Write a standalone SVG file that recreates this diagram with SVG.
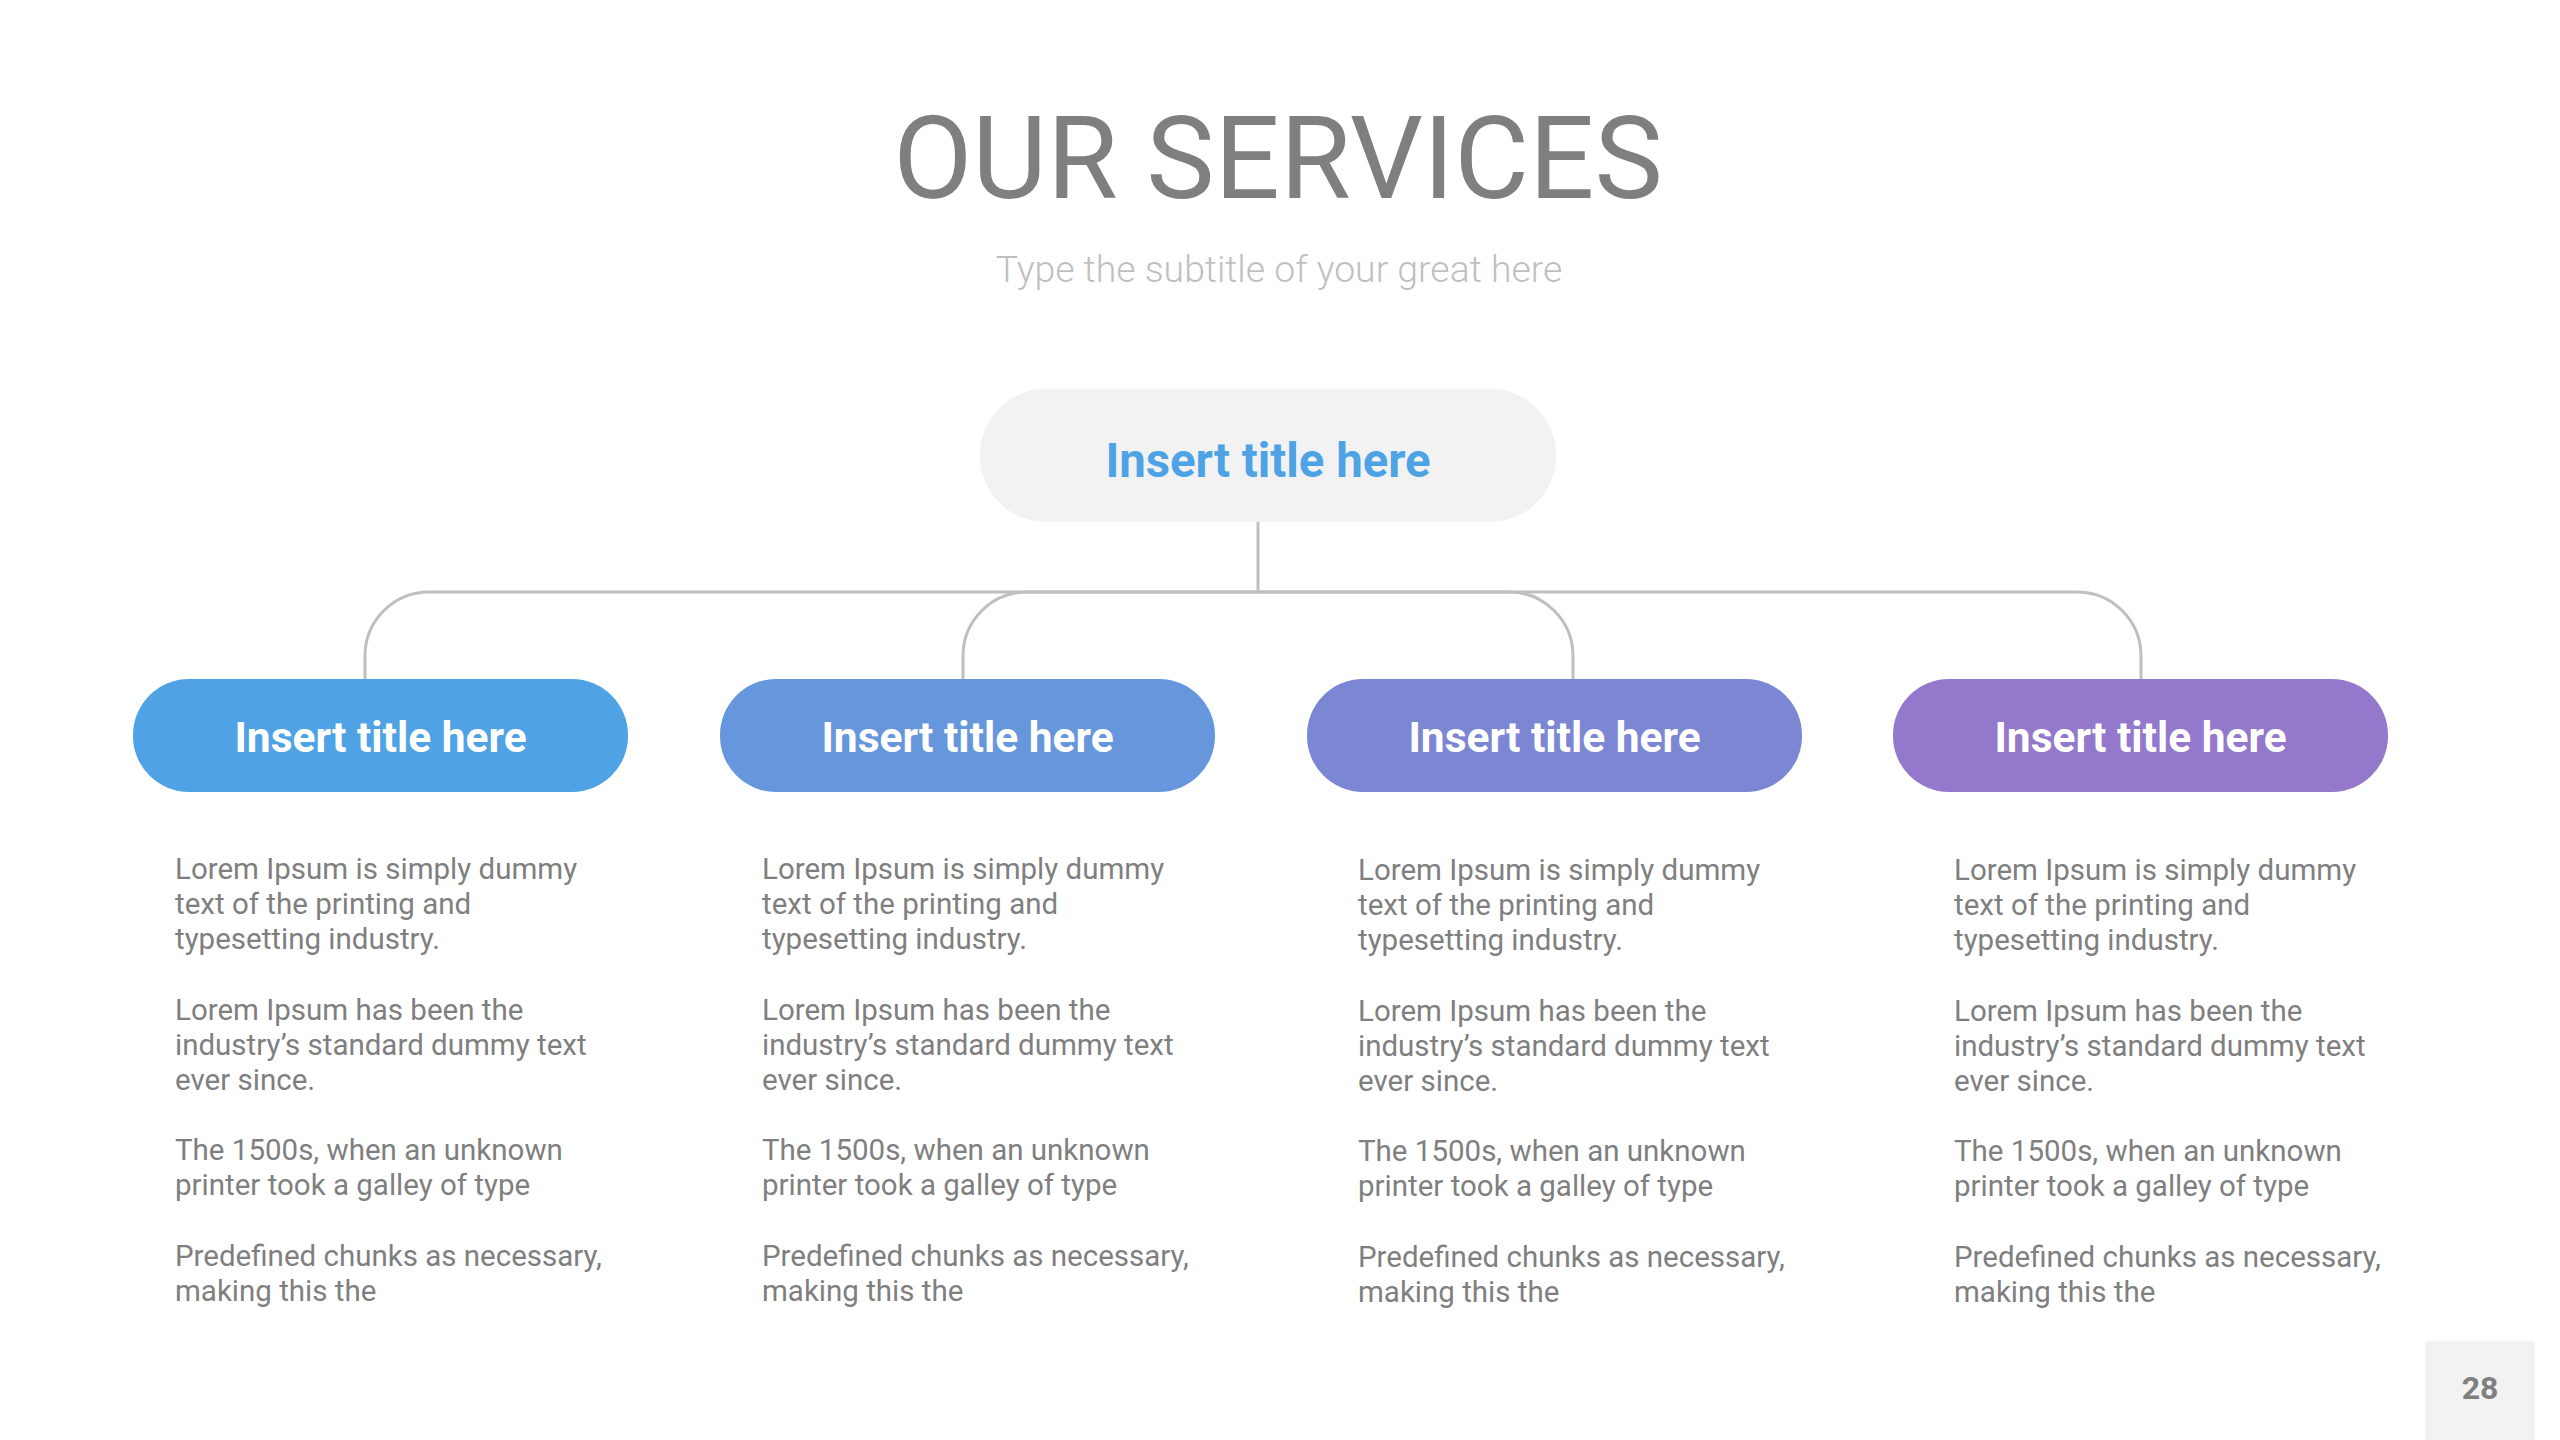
<svg xmlns="http://www.w3.org/2000/svg" width="2560" height="1440" viewBox="0 0 2560 1440">
  <style>
    .title { font-family: Roboto, "Liberation Sans", sans-serif; font-size: 115px; fill: #7f7f7f; }
    .subtitle { font-family: Roboto, "Liberation Sans", sans-serif; font-weight: 300; font-size: 37.4px; fill: #bfbfbf; }
    .head { font-family: Roboto, "Liberation Sans", sans-serif; font-weight: 700; font-size: 42.5px; fill: #ffffff; }
    .mainhead { font-family: Roboto, "Liberation Sans", sans-serif; font-weight: 700; font-size: 47.3px; fill: #4ea3e4; }
    .body { font-family: Roboto, "Liberation Sans", sans-serif; font-size: 29.5px; fill: #7f7f7f; }
    .pagenum { font-family: Roboto, "Liberation Sans", sans-serif; font-weight: 700; font-size: 32px; fill: #7f7f7f; }
    .conn { fill: none; stroke: #bfbfbf; stroke-width: 3; }
  </style>
  <rect x="0" y="0" width="2560" height="1440" fill="#ffffff"/>

  <g id="header">
    <text class="title" x="1278" y="198" text-anchor="middle">OUR SERVICES</text>
    <text class="subtitle" x="1279" y="282" text-anchor="middle">Type the subtitle of your great here</text>
  </g>

  <g id="connectors">
    <path class="conn" d="M1258,522 V592"/>
    <path class="conn" d="M1258,592 H429 A64,64 0 0 0 365,656 V679"/>
    <path class="conn" d="M1258,592 H1027 A64,64 0 0 0 963,656 V679"/>
    <path class="conn" d="M1258,592 H1509 A64,64 0 0 1 1573,656 V679"/>
    <path class="conn" d="M1258,592 H2077 A64,64 0 0 1 2141,656 V679"/>
  </g>

  <g id="node-main">
    <rect x="980" y="389" width="576" height="133" rx="66" ry="66" fill="#f2f2f2"/>
    <text class="mainhead" x="1268" y="477" text-anchor="middle">Insert title here</text>
  </g>

  <g id="node-1">
    <rect x="133" y="679" width="495" height="113" rx="56" ry="56" fill="#4fa3e4"/>
    <text class="head" x="380.5" y="752" text-anchor="middle">Insert title here</text>
  </g>
  <g id="node-2">
    <rect x="720" y="679" width="495" height="113" rx="56" ry="56" fill="#6696dc"/>
    <text class="head" x="967.5" y="752" text-anchor="middle">Insert title here</text>
  </g>
  <g id="node-3">
    <rect x="1307" y="679" width="495" height="113" rx="56" ry="56" fill="#7c87d4"/>
    <text class="head" x="1554.5" y="752" text-anchor="middle">Insert title here</text>
  </g>
  <g id="node-4">
    <rect x="1893" y="679" width="495" height="113" rx="56" ry="56" fill="#9378cb"/>
    <text class="head" x="2140.5" y="752" text-anchor="middle">Insert title here</text>
  </g>

  <g id="text-1">
    <text class="body" x="175" y="879">Lorem Ipsum is simply dummy</text>
    <text class="body" x="175" y="914">text of the printing and</text>
    <text class="body" x="175" y="949">typesetting industry.</text>
    <text class="body" x="175" y="1020">Lorem Ipsum has been the</text>
    <text class="body" x="175" y="1055">industry’s standard dummy text</text>
    <text class="body" x="175" y="1090">ever since.</text>
    <text class="body" x="175" y="1160">The 1500s, when an unknown</text>
    <text class="body" x="175" y="1195">printer took a galley of type</text>
    <text class="body" x="175" y="1266">Predefined chunks as necessary,</text>
    <text class="body" x="175" y="1301">making this the</text>
  </g>
  <g id="text-2">
    <text class="body" x="762" y="879">Lorem Ipsum is simply dummy</text>
    <text class="body" x="762" y="914">text of the printing and</text>
    <text class="body" x="762" y="949">typesetting industry.</text>
    <text class="body" x="762" y="1020">Lorem Ipsum has been the</text>
    <text class="body" x="762" y="1055">industry’s standard dummy text</text>
    <text class="body" x="762" y="1090">ever since.</text>
    <text class="body" x="762" y="1160">The 1500s, when an unknown</text>
    <text class="body" x="762" y="1195">printer took a galley of type</text>
    <text class="body" x="762" y="1266">Predefined chunks as necessary,</text>
    <text class="body" x="762" y="1301">making this the</text>
  </g>
  <g id="text-3">
    <text class="body" x="1358" y="880">Lorem Ipsum is simply dummy</text>
    <text class="body" x="1358" y="915">text of the printing and</text>
    <text class="body" x="1358" y="950">typesetting industry.</text>
    <text class="body" x="1358" y="1021">Lorem Ipsum has been the</text>
    <text class="body" x="1358" y="1056">industry’s standard dummy text</text>
    <text class="body" x="1358" y="1091">ever since.</text>
    <text class="body" x="1358" y="1161">The 1500s, when an unknown</text>
    <text class="body" x="1358" y="1196">printer took a galley of type</text>
    <text class="body" x="1358" y="1267">Predefined chunks as necessary,</text>
    <text class="body" x="1358" y="1302">making this the</text>
  </g>
  <g id="text-4">
    <text class="body" x="1954" y="880">Lorem Ipsum is simply dummy</text>
    <text class="body" x="1954" y="915">text of the printing and</text>
    <text class="body" x="1954" y="950">typesetting industry.</text>
    <text class="body" x="1954" y="1021">Lorem Ipsum has been the</text>
    <text class="body" x="1954" y="1056">industry’s standard dummy text</text>
    <text class="body" x="1954" y="1091">ever since.</text>
    <text class="body" x="1954" y="1161">The 1500s, when an unknown</text>
    <text class="body" x="1954" y="1196">printer took a galley of type</text>
    <text class="body" x="1954" y="1267">Predefined chunks as necessary,</text>
    <text class="body" x="1954" y="1302">making this the</text>
  </g>

  <g id="page-number">
    <rect x="2425" y="1341" width="110" height="99" fill="#f2f2f2"/>
    <text class="pagenum" x="2480" y="1399" text-anchor="middle">28</text>
  </g>
</svg>
